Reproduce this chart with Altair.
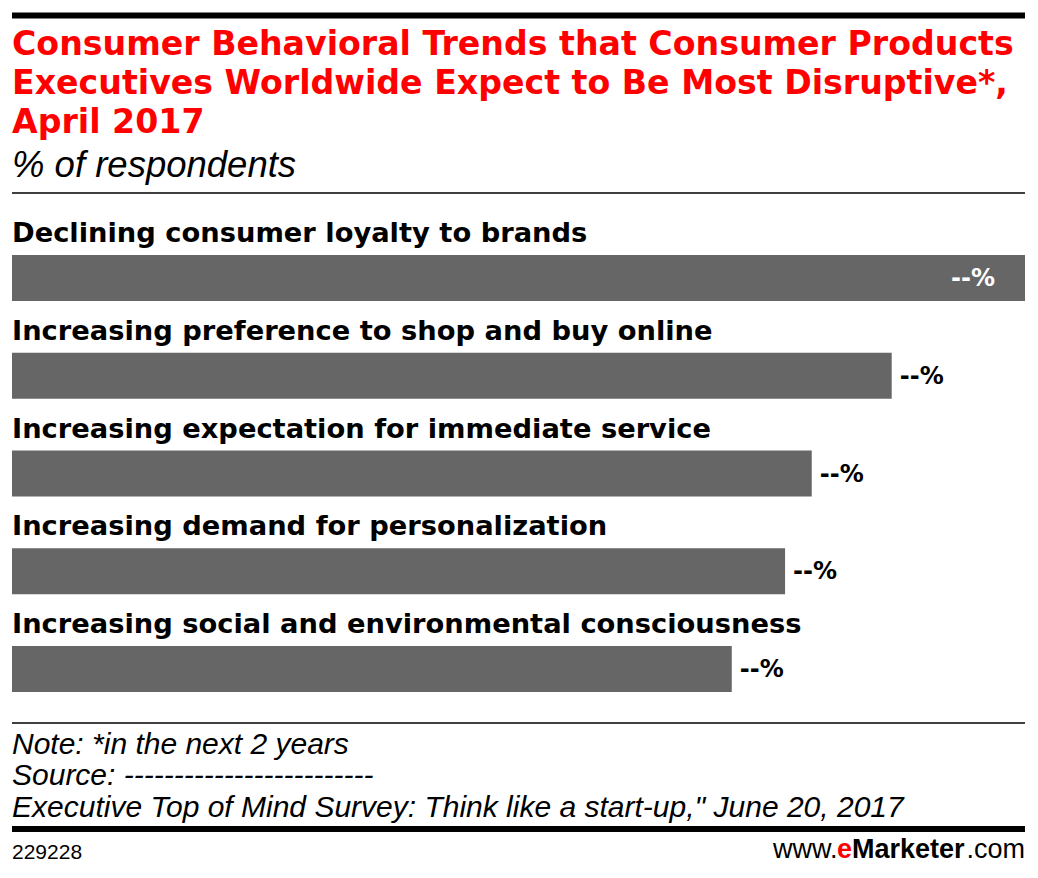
import altair as alt
import pandas as pd

categories = [
    "Declining consumer loyalty to brands",
    "Increasing preference to shop and buy online",
    "Increasing expectation for immediate service",
    "Increasing demand for personalization",
    "Increasing social and environmental consciousness",
]
values = [38, 33, 30, 29, 27]
value_labels = ["--%", "--%", "--%", "--%", "--%"]
title_lines = [
    "Consumer Behavioral Trends that Consumer Products",
    "Executives Worldwide Expect to Be Most Disruptive*,",
    "April 2017",
]
subtitle = "% of respondents"
note_lines = [
    "Note: *in the next 2 years",
    "Source: -------------------------",
    "Executive Top of Mind Survey: Think like a start-up,\" June 20, 2017",
]
chart_id = "229228"

df = pd.DataFrame({"cat": categories, "value": values, "label": value_labels,
                   "first": [True, False, False, False, False]})

W, H = 1022, 862
OFF = 8  # page margin

def px(v):
    return v - OFF

xs = alt.Scale(domain=[0, 38], range=[px(12), px(1025)])
ys = alt.Scale(domain=categories, range=[px(255), px(692)], paddingInner=0.528, paddingOuter=0)

base = alt.Chart(df)

bars = base.mark_bar(color="#666666").encode(
    x=alt.X("value:Q", scale=xs, axis=None),
    x2=alt.X2(datum=0),
    y=alt.Y("cat:N", scale=ys, axis=None, sort=categories),
)

cat_labels = base.mark_text(
    align="left", baseline="alphabetic", dy=-36, font="DejaVu Sans",
    fontWeight="bold", fontSize=27.3, color="#000000"
).encode(
    x=alt.value(px(12)),
    y=alt.Y("cat:N", scale=ys, axis=None, sort=categories),
    text="cat:N",
)

val_first = base.transform_filter("datum.first").mark_text(
    align="right", baseline="middle", dx=-30, dy=1, font="DejaVu Sans",
    fontWeight="bold", fontSize=24, color="#ffffff"
).encode(
    x=alt.X("value:Q", scale=xs, axis=None),
    y=alt.Y("cat:N", scale=ys, axis=None, sort=categories),
    text="label:N",
)

val_rest = base.transform_filter("!datum.first").mark_text(
    align="left", baseline="middle", dx=8, dy=1, font="DejaVu Sans",
    fontWeight="bold", fontSize=24, color="#000000"
).encode(
    x=alt.X("value:Q", scale=xs, axis=None),
    y=alt.Y("cat:N", scale=ys, axis=None, sort=categories),
    text="label:N",
)

one = alt.Data(values=[{"a": 1}])

def rule(y, width):
    return alt.Chart(one).mark_rule(color="#000000", strokeWidth=width).encode(
        x=alt.value(px(12)), x2=alt.value(px(1025)), y=alt.value(px(y))
    )

def text(s, x, y, size, color="#000000", weight="normal", style="normal",
         font="Liberation Sans", align="left"):
    return alt.Chart(one).mark_text(
        align=align, baseline="alphabetic", fontSize=size, color=color,
        fontWeight=weight, fontStyle=style, font=font
    ).encode(x=alt.value(px(x)), y=alt.value(px(y)), text=alt.value(s))

layers = [bars, cat_labels, val_first, val_rest,
          rule(15.5, 6), rule(193, 1.5), rule(723, 1.5), rule(829, 6)]

for line, yb in zip(title_lines, [55, 94.3, 132.7]):
    layers.append(text(line, 12, yb, 33.2, color="#ff0000", weight="bold", font="DejaVu Sans"))

layers.append(text(subtitle, 12, 176.7, 36.5, style="italic"))

for line, yb in zip(note_lines, [754, 785, 816.5]):
    layers.append(text(line, 12, yb, 30, style="italic"))

layers.append(text(chart_id, 12, 859, 21))
layers.append(text("www.", 773, 858, 27))
layers.append(text("e", 837, 858, 27, color="#ff0000", weight="bold"))
layers.append(text("Marketer", 852, 858, 27, weight="bold"))
layers.append(text(".com", 1025, 858, 27, align="right"))

chart = alt.layer(*layers).properties(
    width=W, height=H,
    autosize=alt.AutoSizeParams(type="none"),
    padding=0,
).configure_view(stroke=None)

chart.save("out.html", embed_options={"renderer": "svg", "actions": False})
